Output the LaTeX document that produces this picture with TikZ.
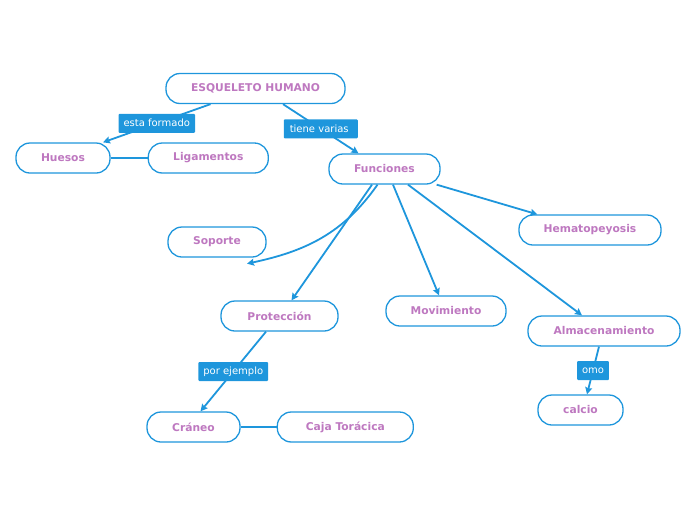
\documentclass[tikz,border=0pt]{standalone}
\usepackage{fontspec}
\setmainfont{DejaVu Sans}
\usetikzlibrary{arrows.meta, positioning}
\definecolor{mapblue}{RGB}{30,150,220}
\definecolor{maptext}{RGB}{190,120,192}

\begin{document}
\begin{tikzpicture}[x=1pt, y=-1pt, thick,
        concept/.style = {draw=mapblue, line width=1.3pt, fill=white, text=maptext, font=\fontsize{10.7}{13}\selectfont\bfseries, minimum height=30pt, rounded corners=14pt, inner sep=0pt},
        linklabel/.style = {fill=mapblue, text=white, font=\fontsize{10}{12}\selectfont, minimum height=19pt, inner xsep=5pt, rounded corners=1pt},
        link/.style = {draw=mapblue, line width=1.8pt},
    ]
    \useasboundingbox (0,0) rectangle (696,520);
    \node[concept, minimum width=179pt]                 (esqueleto) at (255.5,88.5) {ESQUELETO HUMANO};
    \node[concept, minimum width=94pt]                  (huesos) at (63,158) {Huesos};
    \node[concept, minimum width=120pt, right=37pt of huesos] (ligamentos) {Ligamentos};
    \node[concept, minimum width=111pt]                 (funciones) at (384.5,169) {Funciones};
    \node[concept, minimum width=98pt]                  (soporte) at (217,242) {Soporte};
    \node[concept, minimum width=142pt]                 (hemato) at (590,230) {Hematopeyosis};
    \node[concept, minimum width=117pt]                 (proteccion) at (279.5,316) {Protección};
    \node[concept, minimum width=120pt]                 (movimiento) at (446,311) {Movimiento};
    \node[concept, minimum width=152pt]                 (almacen) at (604,331) {Almacenamiento};
    \node[concept, minimum width=85pt]                  (calcio) at (580.5,410) {calcio};
    \node[concept, minimum width=93pt]                  (craneo) at (193.5,427) {Cráneo};
    \node[concept, minimum width=136pt, right=36pt of craneo] (caja) {Caja Torácica};
    %
    \draw[link, -{Stealth[length=7pt, width=7pt, inset=1pt]}]  ([xshift=-45pt]esqueleto.south) -- ([xshift=40pt]huesos.north) node[linklabel, pos=0.5] {esta formado};
    \draw[link, -{Stealth[length=7pt, width=7pt, inset=1pt]}]  ([xshift=27.5pt]esqueleto.south) -- ([xshift=-26pt]funciones.north) node[linklabel, pos=0.5, inner xsep=6pt, text width=62pt] {tiene varias};
    \draw[link]             (huesos.east) -- (ligamentos.west);
    \draw[link, -{Stealth[length=7pt, width=7pt, inset=1pt]}]  ([xshift=-4pt]funciones.south east) -- ([xshift=19pt]hemato.north west);
    \draw[link, -{Stealth[length=7pt, width=7pt, inset=1pt]}]  ([xshift=-7pt]funciones.south) to[out=-125, in=12] ([xshift=30pt, yshift=-6pt]soporte.south);
    \draw[link, -{Stealth[length=7pt, width=7pt, inset=1pt]}]  ([xshift=-12.5pt]funciones.south) -- ([xshift=12pt]proteccion.north);
    \draw[link, -{Stealth[length=7pt, width=7pt, inset=1pt]}]  ([xshift=8.5pt]funciones.south) -- ([xshift=-7pt]movimiento.north);
    \draw[link, -{Stealth[length=7pt, width=7pt, inset=1pt]}]  ([xshift=23.5pt]funciones.south) -- ([xshift=-22pt]almacen.north);
    \draw[link, -{Stealth[length=7pt, width=7pt, inset=1pt]}]  ([xshift=-13.5pt]proteccion.south) -- ([xshift=7pt]craneo.north) node[linklabel, pos=0.5] {por ejemplo};
    \draw[link, -{Stealth[length=7pt, width=7pt, inset=1pt]}]  ([xshift=-5pt]almacen.south) -- ([xshift=6.5pt]calcio.north) node[linklabel, pos=0.5] {omo};
    \draw[link]             (craneo.east) -- (caja.west);
    %
\end{tikzpicture}
\end{document}
